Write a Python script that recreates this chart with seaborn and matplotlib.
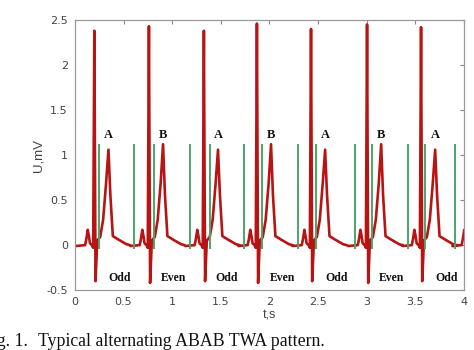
import numpy as np
import pandas as pd
import matplotlib
matplotlib.use("Agg")
import matplotlib.pyplot as plt
import seaborn as sns

# Beat timing and amplitudes (s, mV)
r_times = [0.200, 0.761, 1.326, 1.871, 2.427, 3.003, 3.558, 4.070]
r_amps = [2.38, 2.43, 2.38, 2.46, 2.40, 2.45, 2.42, 2.40]
t_amps = [1.06, 1.12, 1.06, 1.12, 1.06, 1.12, 1.06, 1.06]
s_depth = [-0.40, -0.42, -0.40, -0.42, -0.40, -0.42, -0.40, -0.40]

# One heartbeat as (offset from R peak [s], value [mV]); "R", "S", "T" are per-beat
beat_offsets = [-0.19, -0.095, -0.082, -0.068, -0.056, -0.045, -0.025, -0.012,
                0.0, 0.012, 0.030, 0.060, 0.090, 0.120, 0.145, 0.165, 0.190,
                0.250, 0.330, 0.365]
beat_values = [-0.01, 0.0, 0.07, 0.17, 0.10, 0.02, 0.0, -0.03,
               "R", "S", 0.05, 0.09, 0.28, 0.68, "T", 0.55, 0.10,
               0.06, 0.01, 0.0]

# Analysis window boundaries (green markers)
win_start = [0.247, 0.812, 1.388, 1.926, 2.478, 3.057, 3.599]
win_end = [0.607, 1.183, 1.738, 2.296, 2.879, 3.427, 3.907]
marker_low, marker_high = -0.04, 1.12

t_labels = ["A", "B", "A", "B", "A", "B", "A"]
parity_labels = ["Odd", "Even", "Odd", "Even", "Odd", "Even", "Odd"]
parity_x = [0.46, 1.01, 1.56, 2.13, 2.69, 3.25, 3.82]

x_ticks = [0, 0.5, 1, 1.5, 2, 2.5, 3, 3.5, 4]
y_ticks = [-0.5, 0, 0.5, 1, 1.5, 2, 2.5]

# Assemble the ECG trace
ts, vs = [0.0], [-0.01]
for rt, ra, ta, sd in zip(r_times, r_amps, t_amps, s_depth):
    for off, val in zip(beat_offsets, beat_values):
        v = {"R": ra, "S": sd, "T": ta}.get(val, val) if isinstance(val, str) else val
        ts.append(rt + off)
        vs.append(v)
ecg = pd.DataFrame({"t": ts, "u": vs})

sns.set_theme(style="white")
fig = plt.figure(figsize=(4.74, 3.5), dpi=100)
ax = fig.add_axes([0.158, 0.171, 0.821, 0.772])

sns.lineplot(data=ecg, x="t", y="u", ax=ax, color="#b81414", linewidth=1.9,
             estimator=None, sort=False)

ax.vlines(win_start + win_end, marker_low, marker_high, color="#4aa56a", linewidth=1.4)

for rt, lab in zip(r_times, t_labels):
    ax.text(rt + 0.145, 1.22, lab, ha="center", va="center", fontsize=9,
            fontweight="bold", family="Liberation Serif", color="#111111")
for px, lab in zip(parity_x, parity_labels):
    ax.text(px, -0.37, lab, ha="center", va="center", fontsize=8.5,
            fontweight="bold", family="Liberation Serif", color="#111111")

ax.set_xlim(0, 4)
ax.set_ylim(-0.5, 2.5)
ax.set_xticks(x_ticks)
ax.set_xticklabels([f"{v:g}" for v in x_ticks])
ax.set_yticks(y_ticks)
ax.set_yticklabels([f"{v:g}" for v in y_ticks])
ax.tick_params(direction="in", length=3, width=0.8, color="#888888",
               labelsize=8, labelcolor="#444444", top=True, right=True,
               labeltop=False, labelright=False, pad=5)
for sp in ax.spines.values():
    sp.set_color("#9a9a9a")
    sp.set_linewidth(0.9)
ax.set_xlabel("t,s", fontsize=9, color="#444444", family="Liberation Sans", labelpad=2)
ax.set_ylabel("U,mV", fontsize=9.5, color="#444444", family="Liberation Sans", labelpad=1)

fig.text(28 / 474, 1 - 345.5 / 350, "Fig. 1.", ha="right", va="baseline",
         fontsize=12.8, family="Liberation Serif", color="#111111")
fig.text(38 / 474, 1 - 345.5 / 350, "Typical alternating ABAB TWA pattern.",
         ha="left", va="baseline", fontsize=12.8, family="Liberation Serif",
         color="#111111")

fig.savefig("out.png", dpi=100)
